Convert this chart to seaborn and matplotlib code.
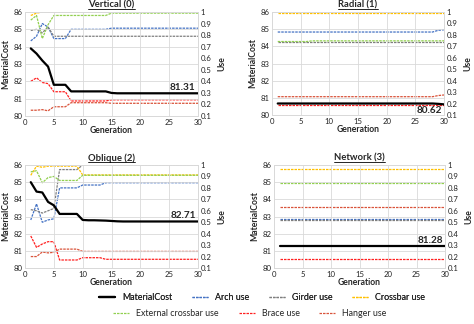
import matplotlib
matplotlib.use("Agg")
import matplotlib.pyplot as plt
from matplotlib.lines import Line2D
import seaborn as sns

# ---------------- data ----------------
generations = list(range(1, 31))

titles = ["Vertical (0)", "Radial (1)", "Oblique (2)", "Network (3)"]
final_labels = ["81.31", "80.62", "82.71", "81.28"]

# Vertical (0)
v_cost = [83.9, 83.6, 83.2, 82.85, 81.8, 81.8, 81.8, 81.42, 81.42, 81.42,
          81.42, 81.42, 81.42, 81.42, 81.33, 81.31, 81.31, 81.31, 81.31, 81.31,
          81.31, 81.31, 81.31, 81.31, 81.31, 81.31, 81.31, 81.31, 81.31, 81.31]
v_arch = [0.75, 0.79, 0.90, 0.87, 0.77, 0.77, 0.77, 0.85, 0.85, 0.85,
          0.85, 0.85, 0.85, 0.85, 0.86, 0.86, 0.86, 0.86, 0.86, 0.86,
          0.86, 0.86, 0.86, 0.86, 0.86, 0.86, 0.86, 0.86, 0.86, 0.86]
v_girder = [0.84, 0.85, 0.82, 0.87, 0.79, 0.79, 0.79, 0.79, 0.79, 0.79,
            0.79, 0.79, 0.79, 0.79, 0.79, 0.79, 0.79, 0.79, 0.79, 0.79,
            0.79, 0.79, 0.79, 0.79, 0.79, 0.79, 0.79, 0.79, 0.79, 0.79]
v_crossbar = [0.97, 0.99, 1.0, 1.0, 1.0, 1.0, 1.0, 1.0, 1.0, 1.0,
              1.0, 1.0, 1.0, 1.0, 1.0, 1.0, 1.0, 1.0, 1.0, 1.0,
              1.0, 1.0, 1.0, 1.0, 1.0, 1.0, 1.0, 1.0, 1.0, 1.0]
v_ext = [0.93, 0.97, 0.77, 0.89, 0.97, 0.97, 0.97, 0.97, 0.97, 0.97,
         0.97, 0.97, 0.97, 0.97, 0.99, 0.99, 0.99, 0.99, 0.99, 0.99,
         0.99, 0.99, 0.99, 0.99, 0.99, 0.99, 0.99, 0.99, 0.99, 0.99]
v_brace = [0.40, 0.43, 0.39, 0.38, 0.31, 0.31, 0.31, 0.23, 0.23, 0.23,
           0.23, 0.23, 0.23, 0.23, 0.24, 0.24, 0.24, 0.24, 0.24, 0.24,
           0.24, 0.24, 0.24, 0.24, 0.24, 0.24, 0.24, 0.24, 0.24, 0.24]
v_hanger = [0.15, 0.15, 0.155, 0.145, 0.18, 0.18, 0.18, 0.215, 0.215, 0.215,
            0.215, 0.215, 0.215, 0.215, 0.21, 0.21, 0.21, 0.21, 0.21, 0.21,
            0.21, 0.21, 0.21, 0.21, 0.21, 0.21, 0.21, 0.21, 0.21, 0.21]

# Radial (1)
r_cost = [80.67] * 28 + [80.65, 80.62]
r_arch = [0.825] * 28 + [0.84, 0.845]
r_girder = [0.735] * 30
r_crossbar = [0.99] * 30
r_ext = [0.742] * 6 + [0.748] * 24
r_brace = [0.19] * 30
r_hanger = [0.26] * 28 + [0.27, 0.275]

# Oblique (2)
o_cost = [85.0, 84.45, 84.4, 83.85, 83.65, 83.15, 83.15, 83.15, 83.15, 82.8,
          82.78, 82.78, 82.77, 82.76, 82.74, 82.72, 82.71, 82.71, 82.71, 82.71,
          82.71, 82.71, 82.71, 82.71, 82.71, 82.71, 82.71, 82.71, 82.71, 82.71]
o_arch = [0.52, 0.66, 0.50, 0.52, 0.53, 0.80, 0.80, 0.80, 0.80, 0.825,
          0.825, 0.825, 0.825, 0.845, 0.845, 0.845, 0.845, 0.845, 0.845, 0.845,
          0.845, 0.845, 0.845, 0.845, 0.845, 0.845, 0.845, 0.845, 0.845, 0.845]
o_girder = [0.61, 0.60, 0.58, 0.60, 0.62, 0.96, 0.96, 0.96, 0.96, 1.0,
            1.0, 1.0, 1.0, 1.0, 1.0, 1.0, 1.0, 1.0, 1.0, 1.0,
            1.0, 1.0, 1.0, 1.0, 1.0, 1.0, 1.0, 1.0, 1.0, 1.0]
o_crossbar = [0.91, 0.99, 0.98, 0.99, 0.99, 0.99, 0.99, 0.99, 0.99, 0.913,
              0.913, 0.913, 0.913, 0.913, 0.913, 0.913, 0.913, 0.913, 0.913, 0.913,
              0.913, 0.913, 0.913, 0.913, 0.913, 0.913, 0.913, 0.913, 0.913, 0.913]
o_ext = [0.94, 0.95, 0.845, 0.89, 0.90, 0.865, 0.865, 0.865, 0.865, 0.91,
         0.91, 0.91, 0.91, 0.91, 0.91, 0.91, 0.91, 0.91, 0.91, 0.91,
         0.91, 0.91, 0.91, 0.91, 0.91, 0.91, 0.91, 0.91, 0.91, 0.91]
o_brace = [0.38, 0.28, 0.31, 0.33, 0.33, 0.17, 0.17, 0.17, 0.17, 0.19,
           0.19, 0.19, 0.19, 0.176, 0.176, 0.176, 0.176, 0.176, 0.176, 0.176,
           0.176, 0.176, 0.176, 0.176, 0.176, 0.176, 0.176, 0.176, 0.176, 0.176]
o_hanger = [0.20, 0.20, 0.24, 0.232, 0.237, 0.265, 0.265, 0.265, 0.265, 0.245,
            0.245, 0.245, 0.245, 0.245, 0.245, 0.245, 0.245, 0.245, 0.245, 0.245,
            0.245, 0.245, 0.245, 0.245, 0.245, 0.245, 0.245, 0.245, 0.245, 0.245]

# Network (3)
n_cost = [81.28] * 30
n_arch = [0.525] * 30
n_girder = [0.523] * 30
n_crossbar = [0.965] * 30
n_ext = [0.84] * 30
n_brace = [0.18] * 30
n_hanger = [0.635] * 30

panels = [
    (v_cost, v_arch, v_girder, v_crossbar, v_ext, v_brace, v_hanger),
    (r_cost, r_arch, r_girder, r_crossbar, r_ext, r_brace, r_hanger),
    (o_cost, o_arch, o_girder, o_crossbar, o_ext, o_brace, o_hanger),
    (n_cost, n_arch, n_girder, n_crossbar, n_ext, n_brace, n_hanger),
]

cost_ticks = [80, 81, 82, 83, 84, 85, 86]
use_ticks = [0.1, 0.2, 0.3, 0.4, 0.5, 0.6, 0.7, 0.8, 0.9, 1.0]
use_ticklabels = ["0.1", "0.2", "0.3", "0.4", "0.5", "0.6", "0.7", "0.8", "0.9", "1"]
gen_ticks = [0, 5, 10, 15, 20, 25, 30]

series_names = ["MaterialCost", "Arch use", "Girder use", "Crossbar use",
                "External crossbar use", "Brace use", "Hanger use"]

# ---------------- style ----------------
sns.set_theme(style="whitegrid")
plt.rcParams["font.family"] = ["Lato", "DejaVu Sans"]

colors = {"cost": "#000000", "arch": "#4472C4", "girder": "#7F7F7F",
          "crossbar": "#FFC000", "ext": "#92D050", "brace": "#FF2020",
          "hanger": "#D9533A"}
use_keys = ["arch", "girder", "crossbar", "ext", "brace", "hanger"]
dash = (0, (2.0, 0.8))

fig = plt.figure(figsize=(4.74, 3.24), dpi=100)
W, H = 474, 324
rects = [
    (25, 12, 198, 116),
    (272, 12, 444, 115),
    (25, 165, 198, 268),
    (274, 165, 445, 268),
]
label_pos = ["above", "below", "above", "above"]

title_texts = []
for i, (rect, data) in enumerate(zip(rects, panels)):
    x0, y0, x1, y1 = rect
    ax = fig.add_axes([x0 / W, (H - y1) / H, (x1 - x0) / W, (y1 - y0) / H])
    ax2 = ax.twinx()
    cost = data[0]
    sns.lineplot(x=generations, y=cost, ax=ax, color=colors["cost"], lw=1.6, zorder=3)
    for key, vals in zip(use_keys, data[1:]):
        sns.lineplot(x=generations, y=vals, ax=ax2, color=colors[key], lw=0.9,
                     linestyle=dash)
    ax.set_xlim(0, 30)
    ax.set_ylim(80, 86)
    ax2.set_ylim(0.1, 1.0)
    ax.set_xticks(gen_ticks)
    ax.set_yticks(cost_ticks)
    ax2.set_yticks(use_ticks)
    ax2.set_yticklabels(use_ticklabels)
    ax2.grid(False)
    ax.grid(True, color="#D9D9D9", lw=0.6)
    for a in (ax, ax2):
        for s in a.spines.values():
            s.set_color("#D9D9D9")
            s.set_linewidth(0.6)
        a.tick_params(labelsize=5.6, length=0, pad=2, colors="#222222")
    ax.set_xlabel("Generation", fontsize=6.2, fontweight="bold", labelpad=0)
    ax.set_ylabel("MaterialCost", fontsize=6.2, fontweight="bold", labelpad=2)
    ax2.set_ylabel("Use", fontsize=6.2, fontweight="bold", labelpad=4)
    ttl = ax.text(0.5, 1.02, titles[i], transform=ax.transAxes, ha="center",
                  va="bottom", fontsize=6.8, fontweight="bold")
    title_texts.append(ttl)
    yv = cost[-1]
    if label_pos[i] == "above":
        ax.text(29.6, yv + 0.08, final_labels[i], ha="right", va="bottom",
                fontsize=7.2, fontweight="bold", zorder=5)
    else:
        ax.text(29.6, yv - 0.1, final_labels[i], ha="right", va="top",
                fontsize=7.2, fontweight="bold", zorder=5)
    ax.set_zorder(ax2.get_zorder() + 1)
    ax.patch.set_visible(False)

fig.canvas.draw()
renderer = fig.canvas.get_renderer()
inv = fig.transFigure.inverted()
for txt in title_texts:
    bb = txt.get_window_extent(renderer=renderer)
    (fx0, fy0), (fx1, fy1) = inv.transform([(bb.x0, bb.y0), (bb.x1, bb.y1)])
    fig.add_artist(Line2D([fx0, fx1], [fy0 + 0.004, fy0 + 0.004], color="black",
                          lw=0.6, transform=fig.transFigure))

handles = [Line2D([], [], color=colors["cost"], lw=1.6)]
for key in use_keys:
    handles.append(Line2D([], [], color=colors[key], lw=0.9, linestyle=dash))

leg1 = fig.legend(handles[:4], series_names[:4], loc="center",
                  bbox_to_anchor=(262 / W, (H - 298) / H), ncol=4, frameon=False,
                  fontsize=6.4, handlelength=1.8, columnspacing=2.2, handletextpad=0.8)
fig.add_artist(leg1)
leg2 = fig.legend(handles[4:], series_names[4:], loc="center",
                  bbox_to_anchor=(250 / W, (H - 314) / H), ncol=3, frameon=False,
                  fontsize=6.4, handlelength=1.8, columnspacing=2.2, handletextpad=0.8)

fig.savefig("out.png", dpi=100)
